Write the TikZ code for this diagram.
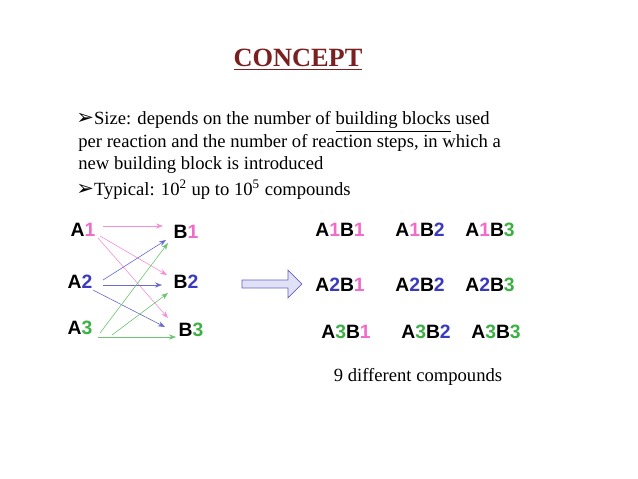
\documentclass[tikz,border=0pt]{standalone}
\usepackage{fontspec}
\setmainfont{Liberation Serif}
\setsansfont{Liberation Sans}
\newfontfamily\symfont{DejaVu Sans}
\usepackage{tikz}
\usetikzlibrary{arrows.meta}
\usetikzlibrary{shapes.arrows}

\definecolor{cpink}{HTML}{F06CC8}
\definecolor{cblue}{HTML}{3A3AC0}
\definecolor{cgreen}{HTML}{3CB043}
\definecolor{ctitle}{HTML}{7A2020}

\newcommand{\dg}[1]{\ifcase#1\or\textcolor{cpink}{1}\or\textcolor{cblue}{2}\or\textcolor{cgreen}{3}\fi}
\newcommand{\blk}[2]{#1\dg{#2}}
\newcommand{\bul}{{\symfont\fontsize{12}{13}\selectfont ➢}}

\tikzset{
  blk/.style={font=\sffamily\bfseries\fontsize{11}{12}\selectfont, inner sep=1pt},
  txt/.style={anchor=west, font=\fontsize{10.6}{12}\selectfont, inner sep=0pt},
  link/.style={-{Stealth[length=4pt,width=3pt]}, line width=0.35pt}
}

\begin{document}
\begin{tikzpicture}[x=0.02cm, y=-0.02cm]
        \useasboundingbox (0,0) rectangle (638,478);

        \node (title) at (298,60) {\fontsize{15}{18}\selectfont\bfseries\textcolor{ctitle}{\underline{CONCEPT}}};

        % Text
        \node[txt] (l1) at (76,122) {\bul Size: depends on the number of \underline{building blocks} used};
        \node[txt] (l2) at (78,143) {per reaction and the number of reaction steps, in which a};
        \node[txt] (l3) at (78,165) {new building block is introduced};
        \node[txt] (l4) at (76,190) {\bul Typical: 10\textsuperscript{2} up to 10\textsuperscript{5} compounds};

        % Blocks
        \node[blk] (a1) at (83,230) {\blk{A}{1}};
        \node[blk] (a2) at (80,282) {\blk{A}{2}};
        \node[blk] (a3) at (80,328) {\blk{A}{3}};
        \node[blk] (b1) at (186,232) {\blk{B}{1}};
        \node[blk] (b2) at (186,282) {\blk{B}{2}};
        \node[blk] (b3) at (191,330) {\blk{B}{3}};

        % Links
        \coordinate (p11) at (103,226); \coordinate (q11) at (163,226);
        \coordinate (p12) at (100,236); \coordinate (q12) at (167,275);
        \coordinate (p13) at (98,238);  \coordinate (q13) at (168,318);
        \coordinate (p21) at (103,280); \coordinate (q21) at (166,240);
        \coordinate (p22) at (103,285); \coordinate (q22) at (162,285);
        \coordinate (p23) at (93,290);  \coordinate (q23) at (165,327);
        \coordinate (p31) at (100,333); \coordinate (q31) at (168,243);
        \coordinate (p32) at (112,335); \coordinate (q32) at (168,293);
        \coordinate (p33) at (98,337);  \coordinate (q33) at (176,337);
        \foreach \i/\c in {1/cpink,2/cblue,3/cgreen}
          \foreach \j in {1,2,3}
            \draw[link, \c!75] (p\i\j) -- (q\i\j);

        % Big arrow
        \node[single arrow, draw=cblue!80, fill=cblue!15, minimum height=1.2cm,
              minimum width=0.56cm, single arrow head extend=0.17cm, inner sep=0.6mm] (arr) at (270,284) {};

        % Products
        \foreach \i/\y/\dx in {1/230/0,2/285/0,3/332/6}
          \foreach \j/\x in {1/340,2/420,3/490}
            \node[blk] (c\i\j) at (\x+\dx,\y) {\blk{A}{\i}\blk{B}{\j}};

        \node (count) at (418,377) {\fontsize{10.6}{12}\selectfont 9 different compounds};
\end{tikzpicture}
\end{document}
